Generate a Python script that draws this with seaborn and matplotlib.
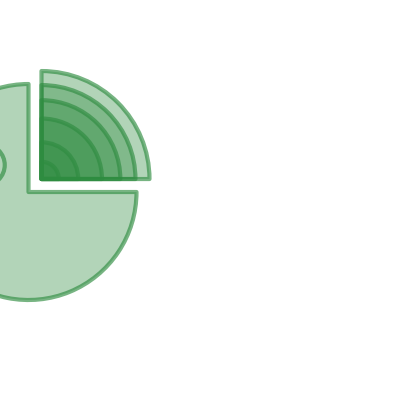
import numpy as np
import matplotlib
matplotlib.use("Agg")
import matplotlib.pyplot as plt
import seaborn as sns

sns.set_theme(style="white")

# pie shares: the exploded quarter and the rest
shares = [25, 75]
explode = [0.17, 0.0]
# concentric rings drawn inside the exploded quarter (fraction of full radius)
ring_radii = [1.0, 0.87, 0.73, 0.56, 0.34, 0.16]

green = (0.18, 0.55, 0.25)
face = (*green, 0.37)
edge = (*green, 0.65)

fig = plt.figure(figsize=(4, 4), dpi=100)
ax = fig.add_axes([0, 0, 1, 1])

for i, r in enumerate(ring_radii):
    wedges, _ = ax.pie(shares, explode=explode, radius=r, startangle=0,
                       colors=[face, face], frame=True,
                       wedgeprops=dict(edgecolor=edge, linewidth=3, joinstyle="round"))
    if i > 0:
        wedges[1].set_visible(False)

# small outline ring peeking in at the left edge
ax.add_patch(plt.Circle((-0.41, 0.25), 0.19, fill=False, edgecolor=edge, linewidth=3))

ax.set_xlim(-0.264, 3.44)
ax.set_ylim(-1.926, 1.778)
ax.set_aspect("equal")
ax.axis("off")

fig.savefig("out.png", dpi=100)
